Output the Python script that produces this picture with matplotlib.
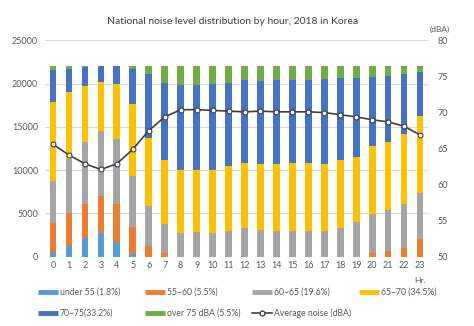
import matplotlib
matplotlib.use("Agg")
import matplotlib.pyplot as plt
from matplotlib.lines import Line2D
import numpy as np

plt.rcParams['font.family'] = ['Lato', 'DejaVu Sans']

hours = [str(h) for h in range(24)]
under55 = [500, 1230, 2190, 2690, 1650, 310, 0, 0, 0, 0, 0, 0, 0, 0, 0, 0, 0, 0, 0, 0, 0, 0, 0, 0]
r55_60 = [3350, 3880, 3960, 4310, 4500, 3150, 1230, 460, 0, 0, 0, 0, 0, 0, 0, 0, 0, 0, 0, 0, 460, 620, 1000, 2000]
r60_65 = [4920, 6240, 7120, 7500, 7430, 5850, 4620, 3310, 2770, 2850, 2770, 2960, 3270, 3080, 2960, 2960, 2960, 2960, 3350, 3960, 4420, 4760, 5040, 5310]
r65_70 = [9110, 7690, 6430, 5690, 6420, 8380, 7920, 7380, 7230, 7150, 7310, 7580, 7580, 7610, 7730, 7890, 7920, 7810, 7800, 7580, 7930, 7890, 8150, 8920]
r70_75 = [3720, 2690, 2220, 1810, 2000, 4040, 7310, 8960, 9880, 9880, 9920, 9570, 9530, 9610, 9690, 9610, 9580, 9810, 9500, 9110, 7960, 7610, 6890, 5080]
over75 = [500, 370, 180, 100, 100, 320, 1020, 1990, 2220, 2220, 2100, 1990, 1670, 1750, 1670, 1590, 1590, 1470, 1400, 1400, 1280, 1170, 970, 740]
avg_noise = [65.6, 64.1, 62.9, 62.1, 62.9, 64.9, 67.5, 69.4, 70.4, 70.4, 70.3, 70.2, 70.1, 70.2, 70.1, 70.1, 70.1, 70.0, 69.7, 69.4, 69.0, 68.7, 68.1, 66.9]

series = [under55, r55_60, r60_65, r65_70, r70_75, over75]
labels = ["under 55 (1.8%)", "55~60 (5.5%)", "60~65 (19.6%)", "65~70 (34.5%)",
          "70~75(33.2%)", "over 75 dBA (5.5%)"]
colors = ["#5B9BD5", "#ED7D31", "#A5A5A5", "#FFC000", "#4472C4", "#70AD47"]

fig = plt.figure(figsize=(4.74, 3.26), dpi=100)
ax = fig.add_axes([0.095, 0.2126, 0.808, 0.6632])
x = np.arange(len(hours))
bottom = np.zeros(len(hours))
for vals, c in zip(series, colors):
    ax.bar(x, vals, width=0.42, bottom=bottom, color=c, zorder=3)
    bottom += np.array(vals)

ax.set_xlim(-0.5, 23.5)
ax.set_ylim(0, 25000)
ax.set_yticks(range(0, 25001, 5000))
ax.set_xticks(x)
ax.set_xticklabels(hours)
ax.grid(axis='y', color='#D9D9D9', linewidth=0.8, zorder=0)
for s in ax.spines.values():
    s.set_visible(False)
ax.tick_params(length=0, labelsize=6.5, labelcolor='#595959', pad=5)
ax.tick_params(axis='x', pad=3)

ax2 = ax.twinx()
ax2.plot(x, avg_noise, color='#404040', linewidth=1.2, marker='o', markersize=3.5,
         markerfacecolor='white', markeredgecolor='#404040', markeredgewidth=0.8, zorder=5)
ax2.set_ylim(50, 80)
ax2.set_yticks(range(50, 81, 5))
for s in ax2.spines.values():
    s.set_visible(False)
ax2.tick_params(length=0, labelsize=6.5, labelcolor='#595959', pad=7)

fig.text(0.49, 0.935, "National noise level distribution by hour, 2018 in Korea",
         ha='center', va='center', fontsize=7.5, color='#404040')
fig.text(0.928, 0.91, "(dBA)", ha='center', va='center', fontsize=6, color='#595959')
fig.text(0.886, 0.14, "Hr.", ha='center', va='center', fontsize=6, color='#595959')

handles = [Line2D([0], [0], color=c, linewidth=3.5, solid_capstyle='butt') for c in colors]
handles.append(Line2D([0], [0], color='#404040', linewidth=1.2, marker='o', markersize=3.5,
                      markerfacecolor='white', markeredgecolor='#404040'))
all_labels = labels + ["Average noise (dBA)"]
columns = [[0, 4], [1, 5], [2, 6], [3]]
col_x = [38, 145, 252, 359]
for cx, idx in zip(col_x, columns):
    leg = fig.legend([handles[i] for i in idx], [all_labels[i] for i in idx],
                     loc='upper left', bbox_to_anchor=(cx / 474, 0.118),
                     ncol=1, frameon=False, fontsize=6.2, labelcolor='#595959',
                     handlelength=2.3, handletextpad=0.2, labelspacing=1.4,
                     borderpad=0, borderaxespad=0)

fig.savefig("out.png", dpi=100)
